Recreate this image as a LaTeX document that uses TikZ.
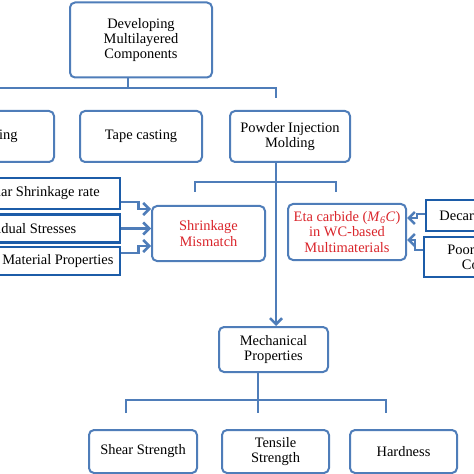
\documentclass[tikz,border=0pt]{standalone}
\usepackage{fontspec}
\setmainfont{Liberation Serif}
\usetikzlibrary{arrows.meta}
\definecolor{boxblue}{RGB}{79,125,185}
\definecolor{darkblue}{RGB}{28,92,168}
\definecolor{txtred}{RGB}{218,37,43}
\tikzset{
  box/.style={draw=boxblue, line width=2bp, rounded corners=5bp, fill=white, align=center,
    font=\fontsize{14.5}{15.5}\selectfont, inner sep=0pt},
  cause/.style={draw=darkblue, line width=2.5bp, fill=white, align=center,
    font=\fontsize{14.5}{15.5}\selectfont, inner sep=0pt},
  link/.style={draw=boxblue, line width=2.5bp},
  arr/.style={link, -{Straight Barb[length=6bp,width=12bp]}},
}
\begin{document}
\begin{tikzpicture}[x=1bp,y=-1bp]
  \useasboundingbox (0,0) rectangle (474,474);
  \clip (0,0) rectangle (474,474);

  \node[box, minimum width=142bp, minimum height=75bp] (dev) at (141,40) {Developing\\Multilayered\\Components};
  \node[box, minimum width=122bp, minimum height=51bp] (prs) at (-7,136.5) {Pressing};
  \node[box, minimum width=122bp, minimum height=51bp] (tape) at (141,136.5) {Tape casting};
  \node[box, minimum width=120bp, minimum height=51bp] (pim) at (290,136.5) {Powder Injection\\Molding};

  \node[box, text=txtred, minimum width=113bp, minimum height=55bp] (shr) at (208.5,233.5) {Shrinkage\\Mismatch};
  \node[box, text=txtred, minimum width=118bp, minimum height=56bp] (eta) at (347,232)
    {Eta carbide (\textit{M}\textsubscript{\textit{6}}\textit{C})\\in WC-based\\Multimaterials};

  \node[cause, minimum width=188bp, minimum height=31bp] (dsr) at (26,193.5) {Dissimilar Shrinkage rate};
  \node[cause, minimum width=188bp, minimum height=28bp] (res) at (26,228.5) {Residual Stresses};
  \node[cause, minimum width=188bp, minimum height=28bp] (dmp) at (26,261) {Dissimilar Material Properties};
  \node[cause, minimum width=120bp, minimum height=31bp] (dec) at (486,215.5) {Decarburization};
  \node[cause, minimum width=120bp, minimum height=40bp] (pcc) at (484,257) {Poor Carbon\\Control};

  \node[box, minimum width=109bp, minimum height=45bp] (mech) at (273.5,349.5) {Mechanical\\Properties};
  \node[box, minimum width=108bp, minimum height=43bp] (shear) at (143,451.5) {Shear Strength};
  \node[box, minimum width=107bp, minimum height=43bp] (tens) at (275.5,451.5) {Tensile\\Strength};
  \node[box, minimum width=107bp, minimum height=43bp] (hard) at (403.5,451.5) {Hardness};

  % top bus
  \coordinate (b1) at (128,88);
  \coordinate (b1l) at (-80,88);
  \coordinate (b1r) at (276,88);
  \coordinate (d1) at (276,98);
  \draw[link] (dev.south -| b1) -- (b1);
  \draw[link] (b1l) -- (b1r) -- (d1);

  % pim branch
  \coordinate (b2l) at (195,182);
  \coordinate (b2r) at (336,182);
  \coordinate (d2l) at (195,192);
  \coordinate (d2r) at (336,192);
  \draw[arr] (pim.south -| b1r) -- (mech.north -| b1r);
  \draw[link] (d2l) -- (b2l) -- (b2r) -- (d2r);

  % causes
  \draw[arr] ([yshift=-8.5bp]dsr.east) -- ++(17,0) |- ([yshift=24.5bp]shr.west);
  \draw[arr] (res.east) -- (shr.west |- res.east);
  \draw[arr] ([yshift=8bp]dmp.east) -- ++(17,0) |- ([yshift=-12.5bp]shr.west);
  \draw[arr] ([yshift=1.5bp]dec.west) -- ++(-8,0) |- ([yshift=14bp]eta.east);
  \draw[arr] ([yshift=7bp]pcc.west) -- ++(-8,0) |- ([yshift=-8bp]eta.east);

  % bottom bus
  \coordinate (b3) at (258,400);
  \coordinate (b3l) at (126,400);
  \coordinate (b3r) at (386,400);
  \draw[link] (mech.south -| b3) -- (b3);
  \draw[link] (b3l |- 0,413) -- (b3l) -- (b3r) -- (b3r |- 0,413);
  \draw[link] (b3) -- (b3 |- 0,413);
\end{tikzpicture}
\end{document}
